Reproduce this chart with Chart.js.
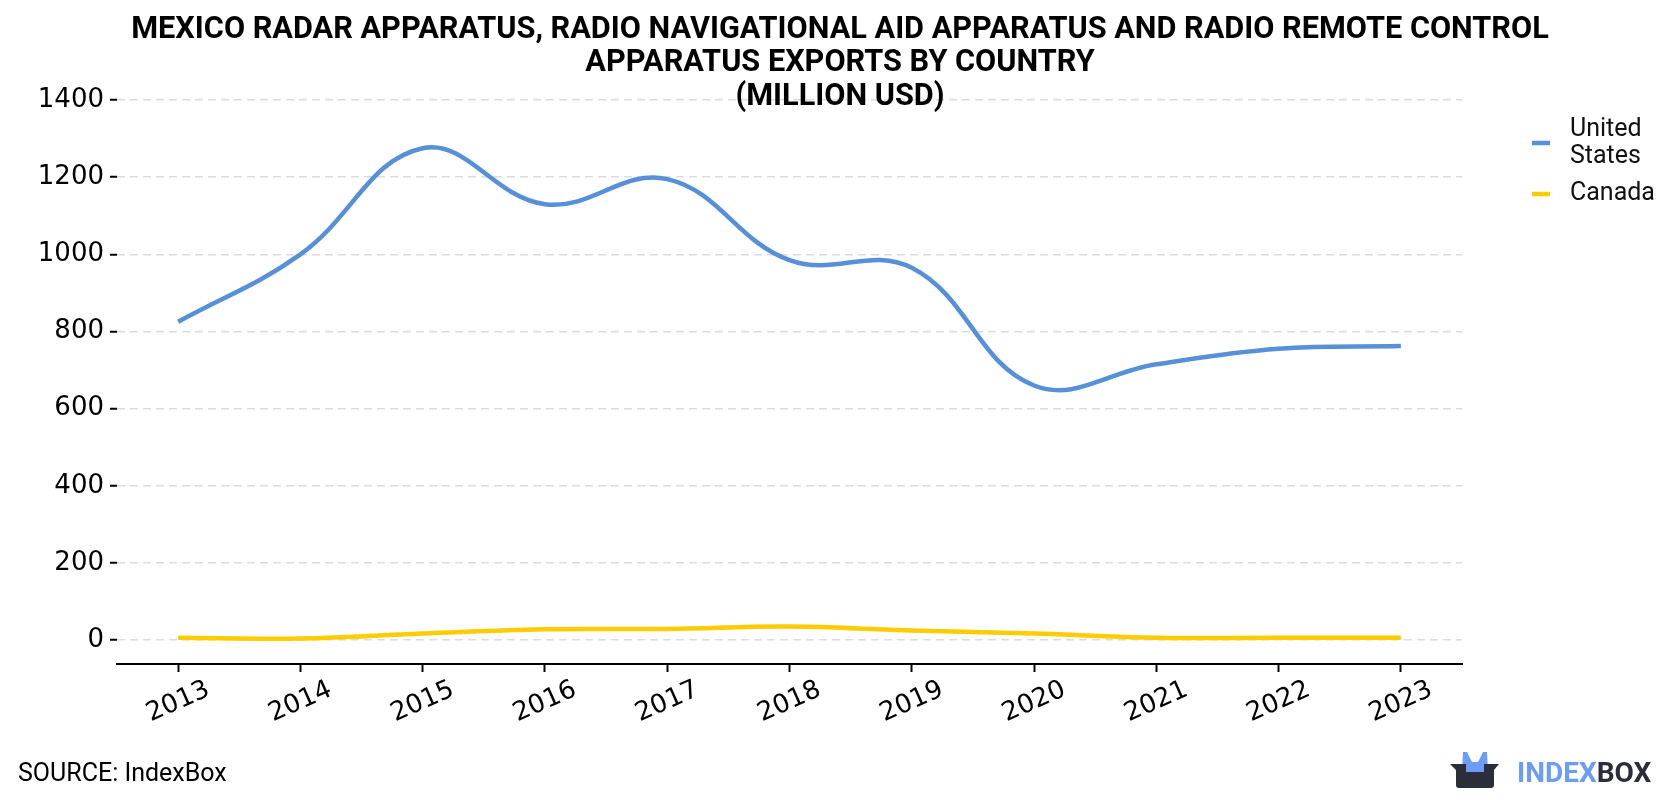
<!DOCTYPE html>
<html>
<head>
<meta charset="utf-8">
<script src="https://cdn.jsdelivr.net/npm/chart.js@4.4.0/dist/chart.umd.min.js"></script>
<style>
  html, body { margin: 0; padding: 0; background: #fff; }
  #wrap { width: 1680px; height: 800px; }
</style>
</head>
<body>
<div id="wrap"><canvas id="chart" width="1680" height="800"></canvas></div>
<script>
// --------------------- DATA ---------------------
const years = [2013, 2014, 2015, 2016, 2017, 2018, 2019, 2020, 2021, 2022, 2023];
const unitedStates = [825, 1000, 1275, 1130, 1195, 985, 965, 660, 715, 755, 762];
const canada = [6, 4, 17, 28, 29, 35, 25, 17, 6, 6, 6];
const yTicks = [0, 200, 400, 600, 800, 1000, 1200, 1400];
const titleLines = [
  "MEXICO RADAR APPARATUS, RADIO NAVIGATIONAL AID APPARATUS AND RADIO REMOTE CONTROL",
  "APPARATUS EXPORTS BY COUNTRY",
  "(MILLION USD)"
];
const seriesNames = [["United", "States"], ["Canada"]];
const seriesColors = ["#5690d9", "#ffcc00"];

const tickFont = "DejaVu Sans";

// --------------------- DECORATIONS ---------------------
// title, legend, rotated year labels, source and logo
const decorations = {
  id: "decorations",
  afterDraw(chart) {
    const ctx = chart.ctx;
    ctx.save();

    // title
    ctx.fillStyle = "#000";
    ctx.font = "bold 30.7px Roboto";
    ctx.textAlign = "center";
    ctx.textBaseline = "middle";
    const titleY = [30, 63, 97];
    titleLines.forEach((t, i) => ctx.fillText(t, 840, titleY[i]));

    // legend
    ctx.font = "25px Roboto";
    ctx.textAlign = "left";
    ctx.lineWidth = 4.5;
    const legendRows = [[130, 157], [194]];
    const markerY = [143, 194];
    seriesNames.forEach((lines, i) => {
      ctx.strokeStyle = seriesColors[i];
      ctx.beginPath();
      ctx.moveTo(1532, markerY[i]);
      ctx.lineTo(1550, markerY[i]);
      ctx.stroke();
      ctx.fillStyle = "#111";
      lines.forEach((l, j) => ctx.fillText(l, 1570, legendRows[i][j]));
    });

    // x labels, rotated and centred on ticks
    const xs = chart.scales.x;
    ctx.font = "26px " + tickFont;
    ctx.fillStyle = "#000";
    ctx.textAlign = "center";
    years.forEach((yr) => {
      const px = xs.getPixelForValue(yr);
      ctx.save();
      ctx.translate(px, 702);
      ctx.rotate(-24 * Math.PI / 180);
      ctx.fillText(String(yr), 0, 0);
      ctx.restore();
    });

    // source
    ctx.font = "25px Roboto";
    ctx.textAlign = "left";
    ctx.fillStyle = "#000";
    ctx.fillText("SOURCE: IndexBox", 18, 775);

    // logo icon
    ctx.fillStyle = "#6b9cf6";
    ctx.beginPath();
    ctx.moveTo(1462, 772);
    ctx.lineTo(1463, 752);
    ctx.lineTo(1467, 752);
    ctx.lineTo(1472, 762);
    ctx.lineTo(1478, 762);
    ctx.lineTo(1483, 752);
    ctx.lineTo(1487, 752);
    ctx.lineTo(1488, 772);
    ctx.closePath();
    ctx.fill();
    ctx.fillStyle = "#2b2d38";
    ctx.beginPath();
    ctx.moveTo(1450, 764);
    ctx.lineTo(1466, 764);
    ctx.lineTo(1466, 772);
    ctx.lineTo(1484, 772);
    ctx.lineTo(1484, 764);
    ctx.lineTo(1499, 764);
    ctx.lineTo(1494, 770);
    ctx.lineTo(1494, 785);
    ctx.quadraticCurveTo(1494, 788, 1491, 788);
    ctx.lineTo(1459, 788);
    ctx.quadraticCurveTo(1456, 788, 1456, 785);
    ctx.lineTo(1456, 770);
    ctx.closePath();
    ctx.fill();

    // logo text
    ctx.font = "bold 28px Roboto";
    ctx.fillStyle = "#6b9cf6";
    ctx.fillText("INDEX", 1517, 775);
    const w = ctx.measureText("INDEX").width;
    ctx.fillStyle = "#2b2d38";
    ctx.fillText("BOX", 1517 + w, 775);

    ctx.restore();
  }
};

// --------------------- CHART ---------------------
const ctx = document.getElementById("chart").getContext("2d");
new Chart(ctx, {
  type: "line",
  data: {
    datasets: [
      {
        label: "United States",
        data: years.map((y, i) => ({ x: y, y: unitedStates[i] })),
        borderColor: seriesColors[0],
        borderWidth: 4.5,
        pointRadius: 0,
        tension: 0.4,
        fill: false,
      },
      {
        label: "Canada",
        data: years.map((y, i) => ({ x: y, y: canada[i] })),
        borderColor: seriesColors[1],
        borderWidth: 4.5,
        pointRadius: 0,
        tension: 0.4,
        fill: false,
      },
    ],
  },
  options: {
    responsive: false,
    animation: false,
    devicePixelRatio: 1,
    layout: { padding: { left: 0, right: 218, top: 100, bottom: 0 } },
    plugins: {
      legend: { display: false },
      title: { display: false },
      tooltip: { enabled: false },
    },
    scales: {
      x: {
        type: "linear",
        min: 2012.5,
        max: 2023.5,
        afterBuildTicks: (s) => { s.ticks = years.map((v) => ({ value: v })); },
        afterFit: (s) => { s.height = 136; },
        ticks: { display: false },
        grid: {
          drawOnChartArea: false,
          drawTicks: true,
          tickLength: 8,
          tickColor: "#000",
          tickWidth: 2,
        },
        border: { display: true, color: "#000", width: 2 },
      },
      y: {
        min: -62,
        max: 1400,
        afterBuildTicks: (s) => { s.ticks = yTicks.map((v) => ({ value: v })); },
        afterFit: (s) => { s.width = 117; },
        ticks: {
          font: { family: tickFont, size: 26 },
          color: "#000",
          padding: 6,
          callback: (v) => String(v),
        },
        grid: {
          color: "#dcdcdc",
          lineWidth: 1.5,
          drawTicks: true,
          tickLength: 7,
          tickColor: "#000",
          tickWidth: 2,
        },
        border: { display: false, dash: [8, 5] },
      },
    },
  },
  plugins: [decorations],
});
</script>
</body>
</html>
